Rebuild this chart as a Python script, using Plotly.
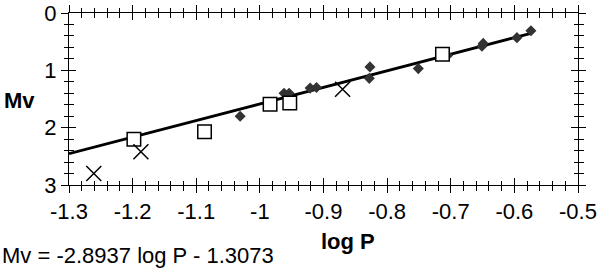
import numpy as np
import plotly.graph_objects as go

# ---- data ----
diamond_x = [-1.031, -0.962, -0.954, -0.921, -0.911, -0.828, -0.827, -0.751, -0.705, -0.651, -0.649, -0.596, -0.574]
diamond_y = [1.80, 1.40, 1.40, 1.31, 1.30, 1.14, 0.94, 0.97, 0.74, 0.58, 0.53, 0.43, 0.31]
square_x = [-1.198, -1.087, -0.984, -0.953, -0.713]
square_y = [2.20, 2.07, 1.59, 1.57, 0.72]
cross_x = [-1.261, -1.187, -0.870]
cross_y = [2.80, 2.42, 1.33]
fit_slope = -2.8937
fit_intercept = -1.3073
fit_x_range = [-1.3, -0.574]
x_tickvals = [-1.3, -1.2, -1.1, -1.0, -0.9, -0.8, -0.7, -0.6, -0.5]
x_ticktext = ["-1.3", "-1.2", "-1.1", "-1", "-0.9", "-0.8", "-0.7", "-0.6", "-0.5"]
y_tickvals = [0, 1, 2, 3]
y_ticktext = ["0", "1", "2", "3"]
equation_text = "Mv = -2.8937 log P - 1.3073"

fit_x = np.array(fit_x_range)
fit_y = fit_slope * fit_x + fit_intercept

FONT = "Liberation Sans, Arial, Helvetica, sans-serif"
FS = 22

fig = go.Figure()
# fit line on the main axes (drawn below)
fig.add_trace(go.Scatter(x=fit_x, y=fit_y, mode="lines", xaxis="x", yaxis="y",
                         line=dict(color="black", width=2.8), showlegend=False))
# markers on the overlaying axes (drawn above the line)
fig.add_trace(go.Scatter(x=diamond_x, y=diamond_y, mode="markers", xaxis="x2", yaxis="y2",
                         marker=dict(symbol="diamond", size=8.5, color="#333333"),
                         showlegend=False))
fig.add_trace(go.Scatter(x=square_x, y=square_y, mode="markers", xaxis="x2", yaxis="y2",
                         marker=dict(symbol="square", size=13.5, color="white",
                                     line=dict(color="black", width=1.5)),
                         showlegend=False))
fig.add_trace(go.Scatter(x=cross_x, y=cross_y, mode="markers", xaxis="x2", yaxis="y2",
                         marker=dict(symbol="x-thin", size=15,
                                     line=dict(color="black", width=1.5)),
                         showlegend=False))


def xaxis_cfg(direction, labels):
    return dict(range=[-1.3, -0.5], tickvals=x_tickvals, ticktext=x_ticktext,
                showticklabels=labels, automargin=False,
                showgrid=False, zeroline=False,
                showline=True, linecolor="black", linewidth=1, mirror="ticks",
                ticks=direction, tickcolor="black", tickwidth=1, ticklen=7,
                tickfont=dict(family=FONT, size=FS, color="black"),
                minor=dict(dtick=0.02, tick0=-1.3, ticks=direction, ticklen=4.5,
                           tickcolor="black", tickwidth=1, showgrid=False))


def yaxis_cfg(direction, labels):
    return dict(range=[3, 0], tickvals=y_tickvals, ticktext=y_ticktext,
                showticklabels=labels, automargin=False,
                showgrid=False, zeroline=False,
                showline=True, linecolor="black", linewidth=1, mirror="ticks",
                ticks=direction, tickcolor="black", tickwidth=1, ticklen=7,
                tickfont=dict(family=FONT, size=FS, color="black"),
                minor=dict(dtick=0.2, tick0=0, ticks=direction, ticklen=4.5,
                           tickcolor="black", tickwidth=1, showgrid=False))


x2 = xaxis_cfg("inside", False)
x2.update(overlaying="x", anchor="y2")
y2 = yaxis_cfg("inside", False)
y2.update(overlaying="y", anchor="x2")

fig.update_layout(
    width=600, height=269,
    margin=dict(l=69, r=22, t=13, b=84),
    paper_bgcolor="white", plot_bgcolor="white",
    font=dict(family=FONT, size=FS, color="black"),
    xaxis=xaxis_cfg("outside", True),
    yaxis=yaxis_cfg("outside", True),
    xaxis2=x2,
    yaxis2=y2,
)

fig.add_annotation(text="<b>Mv</b>", xref="paper", yref="paper",
                   x=(19 - 69) / 509, y=(185 - 100.7) / 172,
                   xanchor="center", yanchor="middle", showarrow=False,
                   font=dict(family=FONT, size=FS, color="black"))
fig.add_annotation(text="<b>log P</b>", xref="paper", yref="paper",
                   x=(347.5 - 69) / 509, y=(185 - 241) / 172,
                   xanchor="center", yanchor="middle", showarrow=False,
                   font=dict(family=FONT, size=FS, color="black"))
fig.add_annotation(text=equation_text, xref="paper", yref="paper",
                   x=(0 - 69) / 509, y=(185 - 255) / 172,
                   xanchor="left", yanchor="middle", showarrow=False,
                   font=dict(family=FONT, size=FS, color="black"))

fig.write_html("out.html",
               config={"displayModeBar": False},
               post_script="document.body.style.margin='0';document.body.style.overflow='hidden';")
